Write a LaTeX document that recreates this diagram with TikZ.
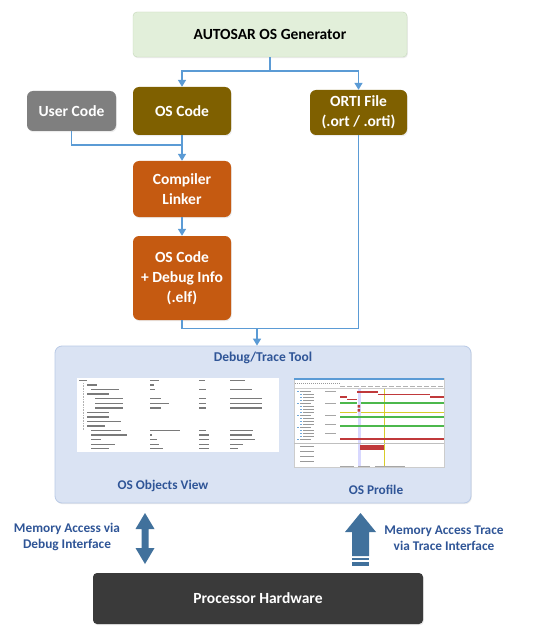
\documentclass[tikz,border=0pt]{standalone}
\usepackage{fontspec}
\setmainfont{Carlito}
\usetikzlibrary{arrows.meta,calc,shadows}
\definecolor{genfill}{HTML}{E2EFDA}
\definecolor{genborder}{HTML}{C5D8BA}
\definecolor{usergray}{HTML}{7F7F7F}
\definecolor{olive}{HTML}{7F6000}
\definecolor{rust}{HTML}{C55A11}
\definecolor{toolfill}{HTML}{DAE3F3}
\definecolor{toolborder}{HTML}{B9CAE6}
\definecolor{darkhw}{HTML}{3A3A3A}
\definecolor{connblue}{HTML}{5B9BD5}
\definecolor{labblue}{HTML}{2F5597}
\definecolor{arrblue}{HTML}{41719C}
\definecolor{tblgray}{HTML}{7A7A7A}
\definecolor{barred}{HTML}{C0393B}
\definecolor{bargreen}{HTML}{4CB84C}
\definecolor{baryellow}{HTML}{D8CC2A}
\definecolor{treeblue}{HTML}{6FA8DC}
\begin{document}
\begin{tikzpicture}[x=1pt,y=-1pt,
  box/.style={rounded corners=6pt, text=white, inner sep=0pt, align=center,
    font=\bfseries\fontsize{15.5}{20}\selectfont,
    drop shadow={opacity=0.15, shadow xshift=0.8pt, shadow yshift=-1.2pt}},
  conn/.style={draw=connblue, line width=1.4pt},
  arr/.style={conn, -{Triangle[width=8pt,length=7pt]}},
  lab/.style={text=labblue, align=center, font=\bfseries\fontsize{13.3}{15.5}\selectfont},
  tbl/.style={draw=tblgray, line width=1.4pt},
  bar/.style={line width=1.6pt},
]
\useasboundingbox[fill=white] (0,0) rectangle (534,639);

% ---- nodes
\node[box, fill=genfill, draw=genborder, text=black, rounded corners=4pt,
  minimum width=274pt, minimum height=45pt] (gen) at (270,34.5) {AUTOSAR OS Generator};
\node[box, fill=usergray, minimum width=89pt, minimum height=40pt] (user) at (71.5,111) {User Code};
\node[box, fill=olive, minimum width=98pt, minimum height=48pt] (oscode) at (182,111) {OS Code};
\node[box, fill=olive, minimum width=97pt, minimum height=45pt] (orti) at (358.5,112.5) {ORTI File\\(.ort / .orti)};
\node[box, fill=rust, minimum width=98pt, minimum height=56pt] (comp) at (182,189) {Compiler\\Linker};
\node[box, fill=rust, minimum width=98pt, minimum height=84pt] (elf) at (182,278) {OS Code\\+ Debug Info\\(.elf)};
\node[box, fill=toolfill, draw=toolborder, line width=0.8pt, rounded corners=7pt,
  minimum width=416pt, minimum height=157pt] (tool) at (263,424.5) {};
\node[lab, font=\bfseries\fontsize{13.5}{16}\selectfont] (tooltitle) at (263,357.5) {Debug/Trace Tool};
\node[box, fill=darkhw, rounded corners=4pt, minimum width=330pt, minimum height=51pt] (proc) at (258,598.5) {Processor Hardware};

% ---- connectors
\coordinate (s) at ($(gen.south)+(0,14)$);
\draw[arr] (gen.south) -- (s) -| (oscode.north);
\draw[arr] (s) -| (orti.north);
\coordinate (j) at ($(oscode.south)+(0,10)$);
\draw[conn] (user.south) |- (j);
\draw[arr] (oscode.south) -- (comp.north);
\draw[arr] (comp.south) -- (elf.north);
\coordinate (j2) at ($(elf.south)+(0,8)$);
\draw[conn] (elf.south) -- (j2) -- (j2 -| orti.south) -- (orti.south);
\coordinate (tin) at ($(tool.north)+(-6,0)$);
\draw[arr] (j2 -| tin) -- (tin);

% ---- OS Objects View screenshot
\node[fill=white, inner sep=0pt, minimum width=202pt, minimum height=74pt] (objview) at (178,415) {};
\foreach \i/\a/\b/\c/\d/\e in {0/0/8/9/6/15, 1/8/10/4/0/0, 2/12/28/5/7/22, 3/8/22/0/0/0,
  4/16/28/11/7/32, 5/16/28/19/7/32, 6/16/28/11/7/32, 7/8/22/0/0/0, 8/8/22/0/0/0,
  9/8/34/0/0/0, 10/8/18/0/0/0, 11/12/30/30/7/23, 12/12/36/2/10/22, 13/12/10/7/10/25,
  14/12/24/9/10/13, 15/12/18/13/10/8}{
  \pgfmathsetmacro\yy{380.5+\i*4.55}
  \draw[tbl] (79+\a,\yy) -- ++(\b,0);
  \draw[tbl] (150,\yy) -- ++(\c,0);
  \draw[tbl] (199,\yy) -- ++(\d,0);
  \draw[tbl] (230,\yy) -- ++(\e,0);
}
\draw[gray!60, line width=0.5pt, dash pattern=on 0.8pt off 0.8pt] (83,383) -- (83,430);
\node[lab] (objlab) at (163,486) {OS Objects View};

% ---- OS Profile screenshot
\node[fill=white, draw=gray!40, line width=0.4pt, inner sep=0pt, minimum width=150pt, minimum height=89pt] (profview) at (369,422.5) {};
\fill[connblue] (294,378) rectangle (444,380.3);
\draw[gray!80, line width=1pt, dash pattern=on 1.2pt off 0.8pt] (295,383) -- (340,383);
\draw[gray!60, line width=0.8pt, dash pattern=on 5pt off 2pt] (340,386) -- (444,386);
\draw[gray!40, line width=0.4pt] (294,388.5) -- (444,388.5);
\fill[blue!25, opacity=0.6] (357.5,388.5) rectangle (360.5,466);
\draw[baryellow, line width=0.5pt] (384,388.5) -- (384,466);
\foreach \k in {0,...,16}{
  \pgfmathsetmacro\yy{391+\k*3}
  \pgfmathsetmacro\ind{mod(\k,4)==0 ? 0 : 3}
  \draw[treeblue, line width=1pt] (297+\ind,\yy) -- ++(2,0);
  \draw[gray!80, line width=0.9pt] (300+\ind,\yy) -- ++(11,0);
}
\draw[gray!70, line width=0.8pt] (325,391) -- ++(11,0) (325,403) -- ++(11,0) (325,415) -- ++(11,0) (325,424) -- ++(11,0) (325,433) -- ++(11,0);
\draw[barred, bar] (357,392) -- (378,392) (378,394.5) -- (430,394.5) (430,397) -- (444,397)
  (340,397) -- (347,397) (347,399.5) -- (357,399.5) (340,439) -- (444,439);
\draw[bargreen, bar] (340,403) -- (357,403) (360.5,403) -- (444,403) (340,417) -- (444,417) (340,426) -- (444,426);
\fill[barred] (357.5,405) rectangle (360,407.5) (357.5,409) rectangle (360,411.5);
\draw[baryellow, bar] (340,412.5) -- (357,412.5) (360.5,412.5) -- (444,412.5);
\draw[gray!50, line width=0.5pt] (294,443) -- (444,443);
\fill[barred] (360,445) rectangle (384,449.5);
\foreach \yy in {446,451,456,461}{
  \draw[gray!80, line width=0.9pt] (300,\yy) -- ++(14,0);
}
\draw[gray!70, line width=0.8pt] (340,466) -- ++(14,0) (358,466) -- ++(12,0) (375,466) -- ++(30,0);

\node[lab] (proflab) at (376,490) {OS Profile};

% ---- memory access arrows
\coordinate (da) at (145,513);
\fill[arrblue] (da) -- ++(9.5,16) -- ++(-6,0) -- ++(0,19) -- ++(6,0) -- ++(-9.5,16)
  -- ++(-9.5,-16) -- ++(6,0) -- ++(0,-19) -- ++(-6,0) -- cycle;
\coordinate (ua) at (360.5,513);
\fill[arrblue] (ua) -- ++(15.5,19) -- ++(-7,0) -- ++(0,24) -- ++(-17,0) -- ++(0,-24) -- ++(-7,0) -- cycle;
\fill[arrblue] (352,557.6) rectangle (369,560);
\fill[arrblue] (352,561.5) rectangle (369,566);

\node[lab] (lab1) at (67,537) {Memory Access via\\Debug Interface};
\node[lab] (lab2) at (444,538) {Memory Access Trace\\via Trace Interface};
\end{tikzpicture}
\end{document}
